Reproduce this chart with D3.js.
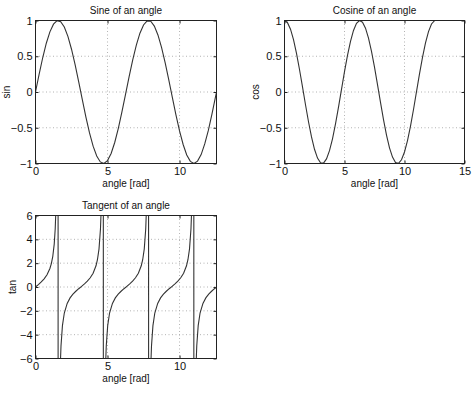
<!DOCTYPE html>
<html><head><meta charset="utf-8">
<script src="https://cdn.jsdelivr.net/npm/d3@7"></script>
<style>
html,body{margin:0;padding:0;background:#fff;}
text{font-family:"Liberation Sans",Arial,Helvetica,sans-serif;fill:#111;}
</style></head>
<body><svg id="c" width="474" height="399"></svg>
<script>
// ---- data ----
const angleX = [0,0.25,0.5,0.75,1,1.25,1.5,1.75,2,2.25,2.5,2.75,3,3.25,3.5,3.75,4,4.25,4.5,4.75,5,5.25,5.5,5.75,6,6.25,6.5,6.75,7,7.25,7.5,7.75,8,8.25,8.5,8.75,9,9.25,9.5,9.75,10,10.25,10.5,10.75,11,11.25,11.5,11.75,12,12.25,12.5,12.566];
const sinValues = [0,0.247,0.479,0.682,0.841,0.949,0.997,0.984,0.909,0.778,0.598,0.382,0.141,-0.108,-0.351,-0.572,-0.757,-0.895,-0.978,-0.999,-0.959,-0.859,-0.706,-0.508,-0.279,-0.033,0.215,0.450,0.657,0.823,0.938,0.995,0.989,0.922,0.798,0.625,0.412,0.174,-0.075,-0.319,-0.544,-0.734,-0.880,-0.970,-1.000,-0.967,-0.876,-0.726,-0.537,-0.311,-0.066,0];
const cosValues = [1,0.969,0.878,0.732,0.540,0.315,0.071,-0.178,-0.416,-0.628,-0.801,-0.924,-0.990,-0.994,-0.936,-0.820,-0.654,-0.446,-0.211,0.037,0.284,0.512,0.709,0.861,0.960,0.999,0.977,0.893,0.754,0.567,0.347,0.104,-0.146,-0.387,-0.602,-0.781,-0.911,-0.985,-0.997,-0.948,-0.839,-0.679,-0.476,-0.245,0.004,0.253,0.483,0.686,0.844,0.951,0.998,1];
const tanX = [0,0.2,0.4,0.6,0.8,1.0,1.1,1.2,1.3,1.37,1.42,1.47,1.52,1.56,
  1.58,1.62,1.67,1.72,1.77,1.87,2.0,2.2,2.4,2.6,2.8,3.0,3.2,3.4,3.6,3.8,4.0,4.2,4.3,4.41,4.51,4.56,4.61,4.66,4.70,
  4.722,4.762,4.812,4.862,4.912,5.012,5.142,5.342,5.542,5.742,5.942,6.142,6.342,6.542,6.742,6.942,7.142,7.342,7.442,7.552,7.652,7.702,7.752,7.802,7.842,
  7.863,7.903,7.953,8.003,8.053,8.153,8.283,8.483,8.683,8.883,9.083,9.283,9.483,9.683,9.883,10.083,10.283,10.483,10.583,10.693,10.793,10.843,10.893,10.943,10.983,
  11.005,11.045,11.095,11.145,11.195,11.295,11.425,11.625,11.825,12.025,12.225,12.425,12.566];
const tanValues = [0,0.203,0.423,0.684,1.030,1.557,1.965,2.572,3.602,4.91,6.58,9.89,19.67,92.6,
  -108.6,-20.3,-10.05,-6.65,-4.95,-3.24,-2.185,-1.374,-0.916,-0.602,-0.356,-0.143,0.058,0.264,0.493,0.774,1.158,1.778,2.29,3.20,4.87,6.51,9.73,19.07,80.6,
  -108.6,-20.3,-10.05,-6.65,-4.95,-3.24,-2.185,-1.374,-0.916,-0.602,-0.356,-0.143,0.058,0.264,0.493,0.774,1.158,1.778,2.29,3.20,4.87,6.51,9.73,19.07,80.6,
  -108.6,-20.3,-10.05,-6.65,-4.95,-3.24,-2.185,-1.374,-0.916,-0.602,-0.356,-0.143,0.058,0.264,0.493,0.774,1.158,1.778,2.29,3.20,4.87,6.51,9.73,19.07,80.6,
  -108.6,-20.3,-10.05,-6.65,-4.95,-3.24,-2.185,-1.374,-0.916,-0.602,-0.356,-0.143,0];
const trigXTicks = [0,5,10];
const cosXTicks = [0,5,10,15];
const unitYTicks = [-1,-0.5,0,0.5,1];
const tanYTicks = [-6,-4,-2,0,2,4,6];
const titles = ["Sine of an angle","Cosine of an angle","Tangent of an angle"];
const yLabels = ["sin","cos","tan"];
const xLabel = "angle [rad]";

const svg = d3.select("#c");
const fmt = v => (v < 0 ? "\u2212" : "") + Math.abs(v);

function panel(id, box, xs, ys, xDom, yDom, xTicks, yTicks, title, yLab, yLabX) {
  const x = d3.scaleLinear().domain(xDom).range([box.l, box.r]);
  const y = d3.scaleLinear().domain(yDom).range([box.b, box.t]);
  const g = svg.append("g");
  g.append("clipPath").attr("id", id).append("rect")
    .attr("x", box.l).attr("y", box.t).attr("width", box.r - box.l).attr("height", box.b - box.t);
  // grid
  const grid = g.append("g").attr("stroke", "#a0a0a0").attr("stroke-width", 0.8).attr("stroke-dasharray", "1,2.5");
  xTicks.filter(v => v > xDom[0] && v < xDom[1]).forEach(v =>
    grid.append("line").attr("x1", x(v)).attr("x2", x(v)).attr("y1", box.t).attr("y2", box.b));
  yTicks.filter(v => v > yDom[0] && v < yDom[1]).forEach(v =>
    grid.append("line").attr("x1", box.l).attr("x2", box.r).attr("y1", y(v)).attr("y2", y(v)));
  // axes with inward ticks
  const ax = d3.axisBottom(x).tickValues(xTicks).tickSize(-3).tickPadding(3.5).tickFormat(fmt);
  const ay = d3.axisLeft(y).tickValues(yTicks).tickSize(-3).tickPadding(3).tickFormat(fmt);
  const gx = g.append("g").attr("transform", `translate(0,${box.b})`).call(ax);
  const gy = g.append("g").attr("transform", `translate(${box.l},0)`).call(ay);
  const gx2 = g.append("g").attr("transform", `translate(0,${box.t})`).call(d3.axisTop(x).tickValues(xTicks).tickSize(-3).tickFormat(""));
  const gy2 = g.append("g").attr("transform", `translate(${box.r},0)`).call(d3.axisRight(y).tickValues(yTicks).tickSize(-3).tickFormat(""));
  [gx, gy, gx2, gy2].forEach(a => {
    a.select(".domain").remove();
    a.selectAll("line").attr("stroke", "#222");
    a.selectAll("text").attr("font-size", 11).attr("fill", "#111")
      .style("font-family", '"Liberation Sans",Arial,sans-serif');
  });
  // data line
  const line = d3.line().x((d, i) => x(xs[i])).y(d => y(d));
  g.append("path").datum(ys).attr("clip-path", `url(#${id})`)
    .attr("fill", "none").attr("stroke", "#333").attr("stroke-width", 1.1).attr("d", line);
  // box
  g.append("rect").attr("x", box.l).attr("y", box.t).attr("width", box.r - box.l).attr("height", box.b - box.t)
    .attr("fill", "none").attr("stroke", "#222").attr("stroke-width", 1);
  // texts
  const cx = (box.l + box.r) / 2;
  g.append("text").attr("x", cx).attr("y", box.t - 7).attr("text-anchor", "middle").attr("font-size", 10).text(title);
  g.append("text").attr("x", cx).attr("y", box.b + 23.5).attr("text-anchor", "middle").attr("font-size", 10).text(xLabel);
  g.append("text").attr("transform", `translate(${yLabX},${(box.t + box.b) / 2}) rotate(-90)`)
    .attr("text-anchor", "middle").attr("font-size", 10).text(yLab);
}

panel("c1", {l: 35.5, r: 216.5, t: 20.5, b: 163.5}, angleX, sinValues, [0, 12.566], [-1, 1], trigXTicks, unitYTicks, titles[0], yLabels[0], 10);
panel("c2", {l: 284.5, r: 464.5, t: 20.5, b: 163.5}, angleX, cosValues, [0, 15], [-1, 1], cosXTicks, unitYTicks, titles[1], yLabels[1], 259);
panel("c3", {l: 35.5, r: 216.5, t: 215.5, b: 358.5}, tanX, tanValues, [0, 12.566], [-6, 6], trigXTicks, tanYTicks, titles[2], yLabels[2], 16);
</script></body></html>
